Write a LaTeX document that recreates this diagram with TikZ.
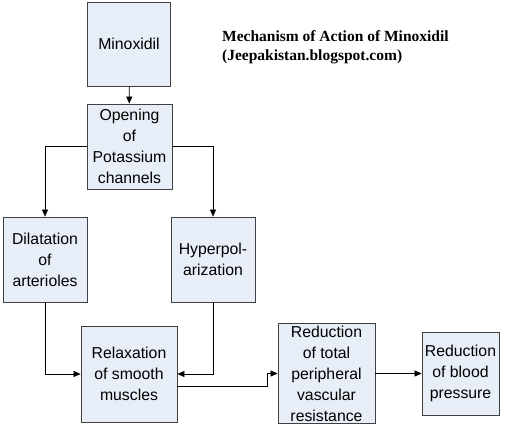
\documentclass[tikz,border=0pt]{standalone}
\usepackage{fontspec}
\setmainfont{Liberation Sans}
\newfontfamily\titlefont{Liberation Serif}
\usetikzlibrary{arrows.meta,positioning,calc}
\definecolor{cFill}{HTML}{E8EEF7}
\definecolor{cLine}{HTML}{404040}
\tikzset{
  box/.style={draw=cLine,thick,fill=cFill,align=center,inner sep=2pt,
              font=\fontsize{15.8}{21}\selectfont},
  flow/.style={-{Triangle[length=7pt,width=6pt]},semithick,black},
  heading/.style={anchor=west,inner sep=0pt,
              font=\titlefont\bfseries\fontsize{15.5}{21}\selectfont},
}

\begin{document}
\begin{tikzpicture}[x=1pt,y=-1pt]
  \useasboundingbox (0,0) rectangle (508,425);
  % boxes
  \node[box,minimum width=83pt,minimum height=84pt] (mino) at (129,44) {Minoxidil};
  \node[box,minimum width=85pt,minimum height=85pt] (open) at (129.5,146.5)
    {Opening\\of\\Potassium\\channels};
  \node[box,minimum width=84pt,minimum height=85pt] (dil) at (45,259.5)
    {Dilatation\\of\\arterioles};
  \node[box,minimum width=84pt,minimum height=85pt] (hyp) at (213,259.5)
    {Hyperpol-\\arization};
  \node[box,minimum width=96pt,minimum height=96pt] (relax) at (129,374)
    {Relaxation\\of smooth\\muscles};
  \node[box,minimum width=97pt,minimum height=95pt] (tpvr) at (326.5,373.5)
    {Reduction\\of total\\peripheral\\vascular\\resistance};
  \node[box,minimum width=77pt,minimum height=83pt] (bp) at (460.5,373.5)
    {Reduction\\of blood\\pressure};
  % title
  \node[heading] (title) at (222,36) {Mechanism of Action of Minoxidil};
  \node[heading] (site) at (222,57) {(Jeepakistan.blogspot.com)};
  % connectors
  \draw[flow] (mino) -- (open);
  \draw[flow] (open.west) -| (dil.north);
  \draw[flow] (open.east) -| (hyp.north);
  \draw[flow] (dil.south) |- (relax.west);
  \draw[flow] (hyp.south) |- (relax.east);
  \draw[flow] ([yshift=-12pt]relax.east) -- ++(90,0) |- (tpvr.west);
  \draw[flow] (tpvr) -- (bp);
\end{tikzpicture}
\end{document}
